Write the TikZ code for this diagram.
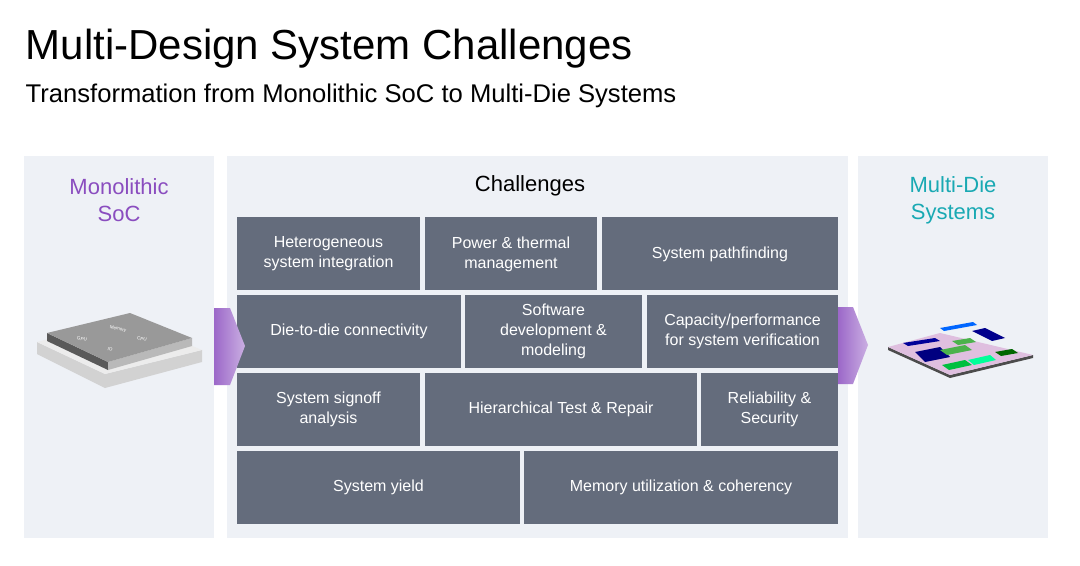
\documentclass[tikz,border=0pt]{standalone}
\usepackage{fontspec}
\setmainfont{Liberation Sans}
\usetikzlibrary{positioning}
\definecolor{panel}{HTML}{EEF1F6}
\definecolor{cellgray}{HTML}{646C7C}
\definecolor{soc}{HTML}{8A4DBF}
\definecolor{mdie}{HTML}{19A9B3}
\begin{document}
\begin{tikzpicture}[x=0.75pt,y=-0.75pt,
        cell/.style={
            rectangle,
            fill=cellgray,
            text=white,
            minimum width=#1*0.75pt,
            minimum height=54.75pt,
            inner sep=2pt,
            align=center,
            font=\fontsize{12}{15}\selectfont
        },
        chevron/.style={
            left color=soc!85,
            right color=soc!45,
            draw=none
        }
    ]
    \useasboundingbox (0,0) rectangle (1080,566);
    \fill[white] (0,0) rectangle (1080,566);

    % Title
    \node[anchor=west, font=\fontsize{31.5}{34}\selectfont] (title) at (21,49) {Multi-Design System Challenges};
    \node[anchor=west, font=\fontsize{19.2}{22}\selectfont] (subtitle) at (21,96) {Transformation from Monolithic SoC to Multi-Die Systems};

    % Panels
    \fill[panel] (24,156) rectangle (214,538);
    \fill[panel] (227,156) rectangle (848,538);
    \fill[panel] (858,156) rectangle (1048,538);
    \node[text=soc, align=center, font=\fontsize{16.5}{20.5}\selectfont] (mono) at (119,200) {Monolithic\\SoC};
    \node[font=\fontsize{16.5}{18}\selectfont] (chal) at (530,186) {Challenges};
    \node[text=mdie, align=center, font=\fontsize{16.5}{20.5}\selectfont] (multi) at (953,200) {Multi-Die\\Systems};

    % Challenge cells
    \node[cell=183] (hetero) at (328.5,254) {Heterogeneous\\system integration};
    \node[cell=172] (power) at (511,254) {Power \& thermal\\management};
    \node[cell=236] (pathfind) at (720,254) {System pathfinding};

    \node[cell=224] (d2d) at (349,331.5) {Die-to-die connectivity};
    \node[cell=177] (software) at (553.5,331.5) {Software\\development \&\\modeling};
    \node[cell=191] (capacity) at (742.5,331.5) {Capacity/performance\\for system verification};

    \node[cell=183] (signoff) at (328.5,409.5) {System signoff\\analysis};
    \node[cell=272] (test) at (561,409.5) {Hierarchical Test \& Repair};
    \node[cell=137] (reliab) at (769.5,409.5) {Reliability \&\\Security};

    \node[cell=283] (yield) at (378.5,487) {System yield};
    \node[cell=314] (memory) at (681,487) {Memory utilization \& coherency};

    % Arrows
    \shade[chevron] (214,308) -- (230,308) -- (245,346) -- (230,385) -- (214,385) -- cycle;
    \shade[chevron] (838,307) -- (853,307) -- (868,345) -- (853,384) -- (838,384) -- cycle;

    % Monolithic chip
    \fill[gray!35] (37,342) -- (105,374) -- (202,350) -- (202,362) -- (105,388) -- (37,354) -- cycle;
    \fill[gray!15] (37,342) -- (125,318) -- (202,350) -- (105,374) -- cycle;
    \fill[gray!70!black] (47,333) -- (108,362) -- (108,370) -- (47,341) -- cycle;
    \fill[gray!55] (108,362) -- (192,338) -- (192,346) -- (108,370) -- cycle;
    \fill[gray!80] (47,333) -- (130,313) -- (192,338) -- (108,362) -- cycle;
    \begin{scope}[every node/.style={text=white, font=\fontsize{3.5}{4}\selectfont, rotate=-12}]
        \node (gpu) at (82,339) {GPU};
        \node (mem) at (118,329) {Memory};
        \node (io) at (110,349) {IO};
        \node (cpu) at (142,339) {CPU};
    \end{scope}

    % Multi-die chip
    \fill[black!70] (888,347) -- (950,375) -- (1033,355) -- (1033,358) -- (950,378) -- (888,350) -- cycle;
    \fill[violet!25] (888,347) -- (940,333) -- (1033,355) -- (950,375) -- cycle;
    \fill[blue!60!cyan] (940,328) -- (973,322) -- (977,325) -- (944,331) -- cycle;
    \fill[blue!55!black] (972,331) -- (985,328) -- (1005,338) -- (992,341) -- cycle;
    \fill[blue!60!black] (903,343) -- (935,338) -- (940,341) -- (908,346) -- cycle;
    \fill[blue!50!black] (915,352) -- (940,347) -- (950,357) -- (925,362) -- cycle;
    \fill[gray!60!green] (940,350) -- (965,345) -- (972,350) -- (947,355) -- cycle;
    \fill[gray!60!green] (952,341) -- (970,338) -- (976,342) -- (958,345) -- cycle;
    \fill[green!50!teal] (942,365) -- (965,360) -- (972,365) -- (949,370) -- cycle;
    \fill[green!40!cyan] (968,360) -- (990,355) -- (996,360) -- (974,365) -- cycle;
    \fill[green!40!black] (995,352) -- (1012,349) -- (1018,353) -- (1001,356) -- cycle;
\end{tikzpicture}
\end{document}
